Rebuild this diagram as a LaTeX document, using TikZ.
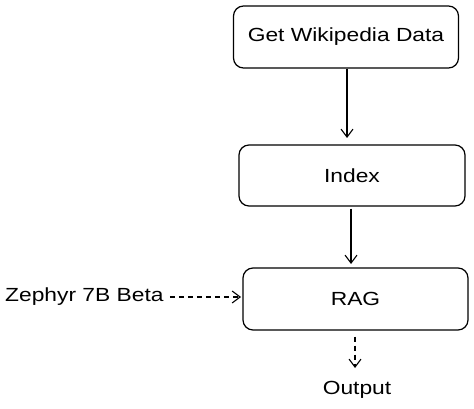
\documentclass[tikz,border=0pt]{standalone}
\usepackage{fontspec}
\setmainfont[FakeStretch=1.2]{Liberation Sans}
\usetikzlibrary{arrows.meta}
\begin{document}
\begin{tikzpicture}[x=1pt,y=-1pt,
  box/.style={draw, line width=1.2pt, rounded corners=10pt, inner sep=0pt, font=\fontsize{19}{22}\selectfont},
  lbl/.style={inner sep=0pt, font=\fontsize{19}{22}\selectfont},
  conn/.style={line width=1.1pt, -{Straight Barb[length=8pt,width=12pt,line width=1.1pt]}},
  dconn/.style={conn, dash pattern=on 5pt off 4pt}]
\useasboundingbox (0,0) rectangle (474,409);
\node[box, minimum width=225pt, minimum height=62pt] (get) at (346,37) {Get Wikipedia Data};
\node[box, minimum width=226pt, minimum height=61pt] (index) at (352,175.5) {Index};
\node[box, minimum width=225pt, minimum height=62pt] (rag) at (355.5,299) {RAG};
\node[lbl, anchor=west] (zephyr) at (5,297) {Zephyr 7B Beta};
\node[lbl] (out) at (357,390) {Output};
\draw[conn] (get.south -| 347,0) -- (347,138);
\draw[conn] (index.south -| 351,0) ++(0,2) -- (351,264);
\draw[dconn] (zephyr.east) ++(6,0) -- (241,297);
\draw[dconn] (rag.south -| 355,0) ++(0,6) -- (355,368);
\end{tikzpicture}
\end{document}
